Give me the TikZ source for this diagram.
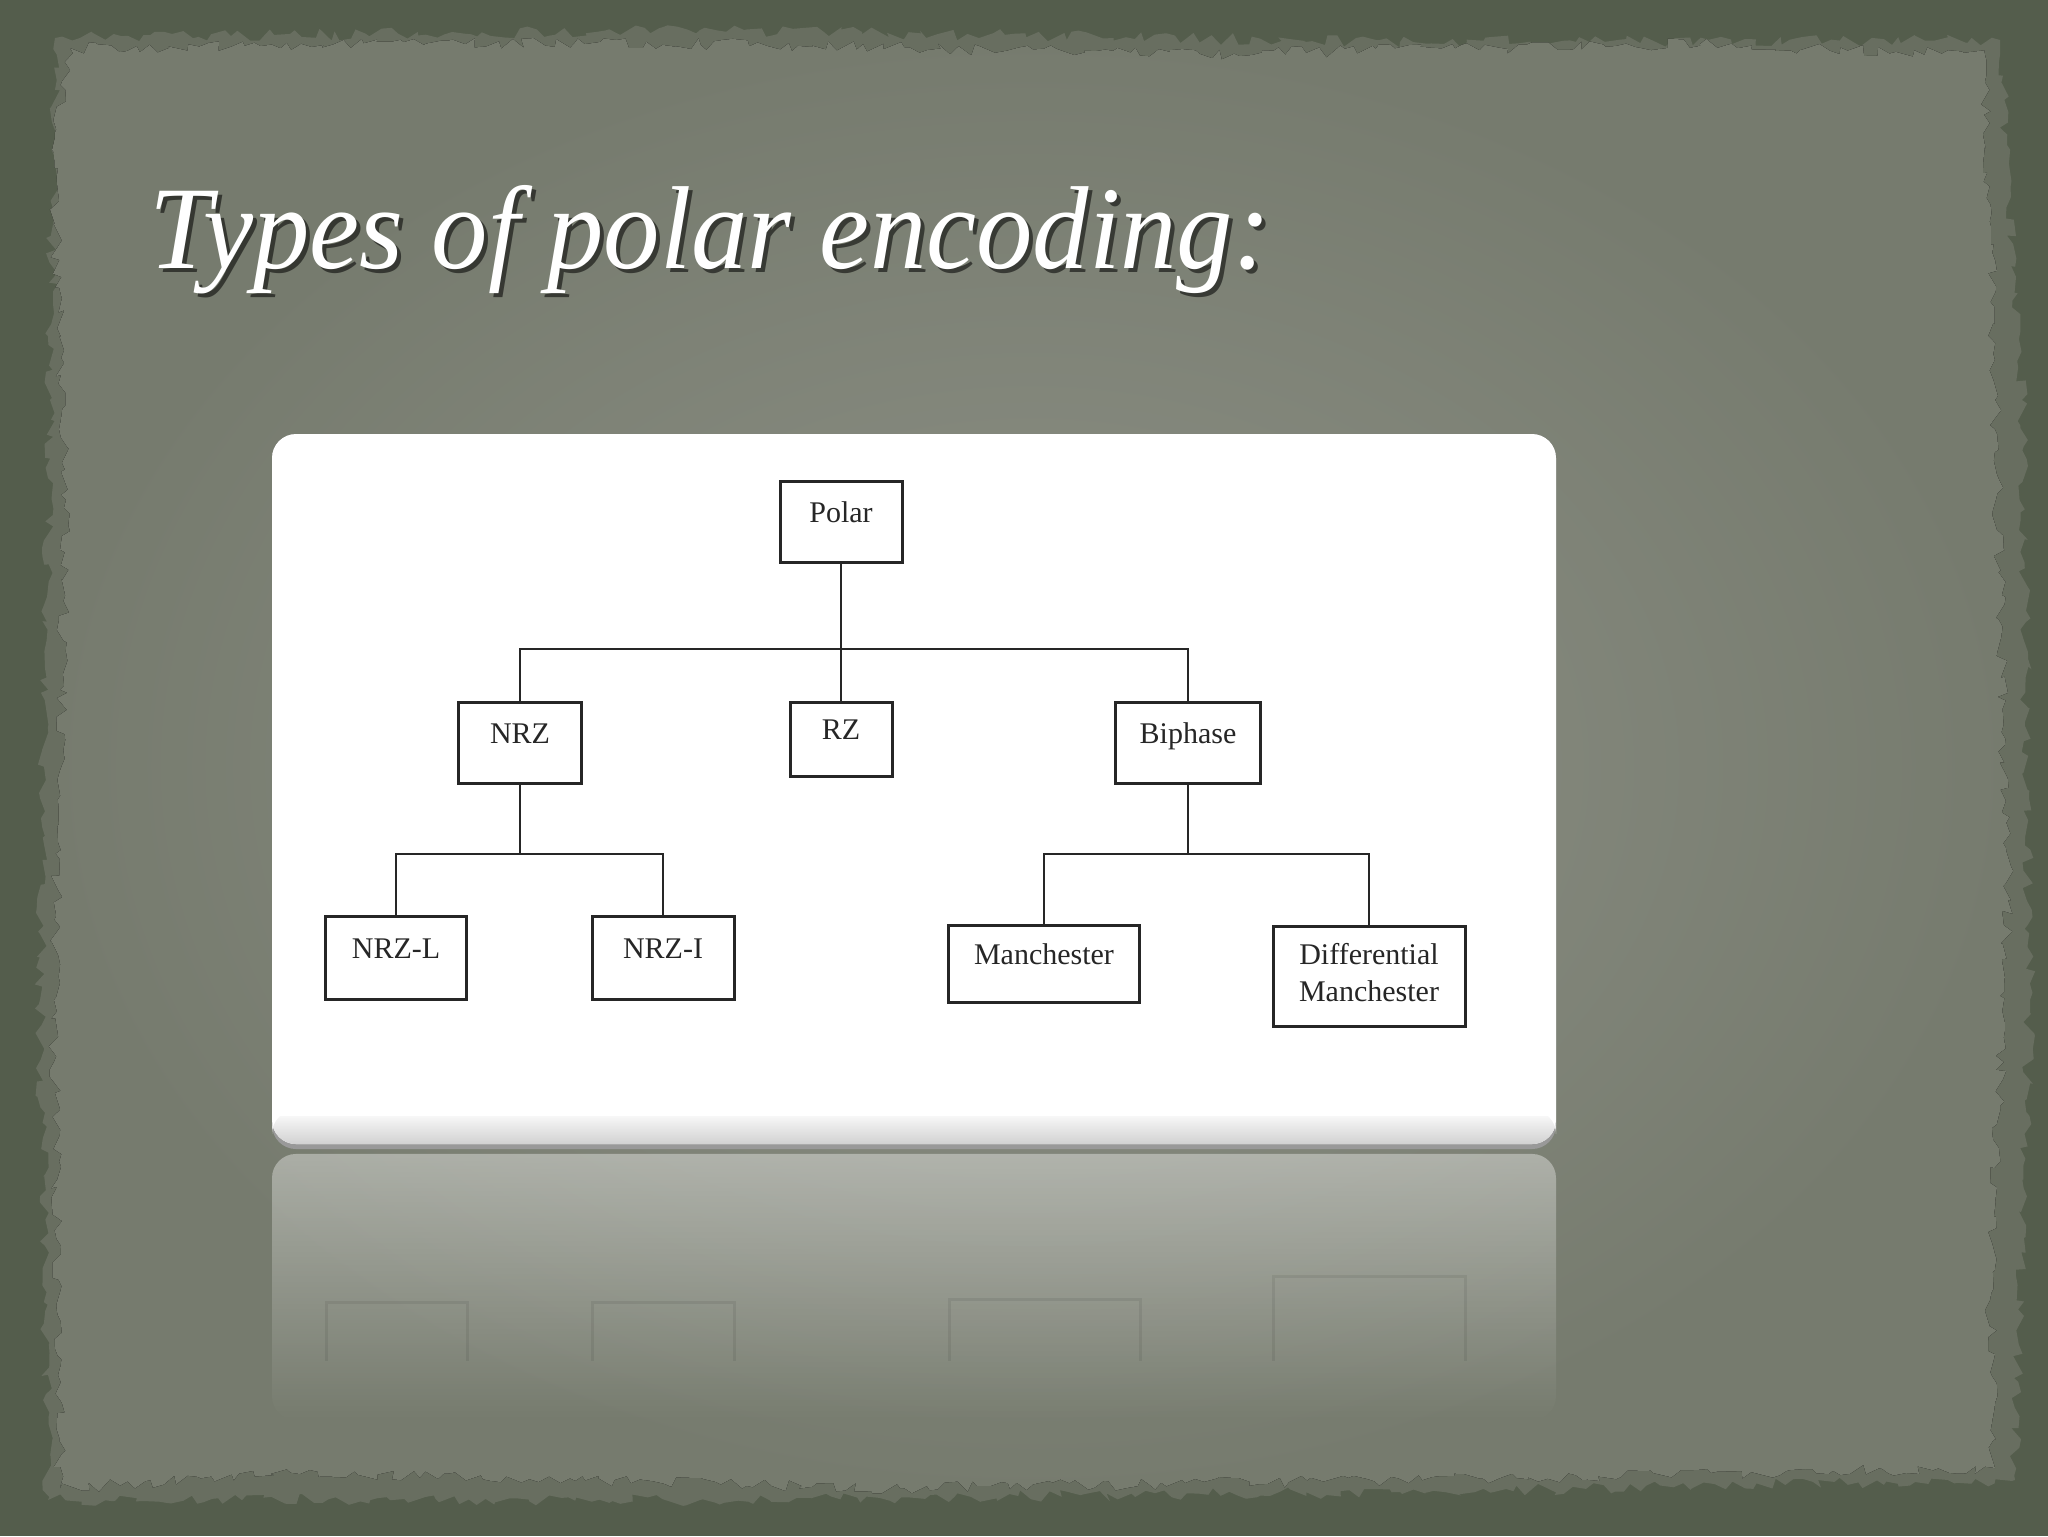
\documentclass[tikz,border=0pt]{standalone}
\usepackage{fontspec}
\setmainfont{Liberation Serif}
\usetikzlibrary{decorations.pathmorphing, fadings}

\definecolor{frameolive}{RGB}{84,93,76}
\definecolor{paperback}{RGB}{104,110,96}
\definecolor{paperedge}{RGB}{118,123,110}
\definecolor{papermid}{RGB}{142,145,135}
\definecolor{inkgray}{RGB}{38,38,38}
\tikzfading[name=reflfade, top color=transparent!62, bottom color=transparent!100]

\begin{document}
\begin{tikzpicture}[x=0.25pt, y=-0.25pt,
    enc/.style={draw=inkgray, line width=0.75pt, fill=white, inner sep=0pt,
      font=\fontsize{7.5}{9.25}\selectfont, text=inkgray, align=center},
    lift/.style={text height=5.5pt, text depth=5.5pt},
    link/.style={draw=inkgray, line width=0.65pt}]
  \useasboundingbox (0,0) rectangle (2048,1536);
  % background and torn paper
  \fill[frameolive] (0,0) rectangle (2048,1536);
  \pgfmathsetseed{7}
  \fill[paperback, decorate, decoration={random steps, segment length=2pt, amplitude=1.5pt}]
    (55,38) -- (700,30) -- (1400,42) -- (2000,40) -- (2022,400) -- (2030,1000) -- (2015,1480)
    -- (1400,1492) -- (700,1500) -- (48,1500) -- (40,1000) -- (50,400) -- cycle;
  \fill[inner color=papermid, outer color=paperedge, decorate, decoration={random steps, segment length=2pt, amplitude=1.5pt}]
    (70,48) -- (600,42) -- (1200,54) -- (1700,44) -- (1985,55) -- (1995,400) -- (2008,900)
    -- (1990,1300) -- (1995,1468) -- (1500,1478) -- (900,1488) -- (300,1474) -- (60,1488)
    -- (54,1000) -- (66,500) -- (52,150) -- cycle;
  % title
  \node[anchor=base west, text=black, opacity=0.55, font=\fontsize{29.5}{34}\selectfont\itshape]
    (titleshadow) at (139,272) {\scalebox{0.955}[1]{Types of polar encoding:}};
  \node[anchor=base west, text=white, font=\fontsize{29.5}{34}\selectfont\itshape]
    (title) at (135,268) {\scalebox{0.955}[1]{Types of polar encoding:}};
  % card and its reflection
  \fill[white, path fading=reflfade, rounded corners=6pt] (272,1154) rectangle (1556,1420);
  \begin{scope}[opacity=0.07, line width=0.75pt]
    \clip (272,1150) rectangle (1556,1360);
    \draw (326,1385) -- (326,1302) -- (467,1302) -- (467,1385);
    \draw (592,1385) -- (592,1302) -- (734,1302) -- (734,1385);
    \draw (949,1376) -- (949,1299) -- (1140,1299) -- (1140,1376);
    \draw (1273,1376) -- (1273,1276) -- (1465,1276) -- (1465,1376);
  \end{scope}
  \fill[black!40, rounded corners=6pt] (272,434) rectangle (1556,1149);
  \fill[white, rounded corners=6pt] (272,434) rectangle (1556,1144);
  \shade[top color=white, bottom color=black!18, rounded corners=6pt] (272,1110) rectangle (1556,1144);
  \fill[white] (272,1100) rectangle (1556,1116);

  % boxes
  \node[enc, lift, minimum width=30.5pt, minimum height=20.25pt] (polar) at (841,522) {Polar};
  \node[enc, lift, minimum width=30.75pt, minimum height=20.25pt] (nrz) at (520,743) {NRZ};
  \node[enc, lift, minimum width=25.5pt, minimum height=18.5pt] (rz) at (841,739) {RZ};
  \node[enc, lift, minimum width=36.25pt, minimum height=20.25pt] (bip) at (1188,743) {Biphase};
  \node[enc, lift, minimum width=35.25pt, minimum height=20.75pt] (nrzl) at (396,958) {NRZ-L};
  \node[enc, lift, minimum width=35.5pt, minimum height=20.75pt] (nrzi) at (663,958) {NRZ-I};
  \node[enc, lift, minimum width=47.75pt, minimum height=19.25pt] (man) at (1044,964) {Manchester};
  \node[enc, text height=12.5pt, text depth=0pt, minimum width=48pt, minimum height=25pt] (dman)
    at (1369,976) {Differential\\Manchester};

  % connectors
  \coordinate (tbus) at (841,649);
  \coordinate (lbus) at (520,854);
  \coordinate (rbus) at (1188,854);
  \draw[link] (polar) -- (rz);
  \draw[link] (nrz.north) |- (tbus) -| (bip.north);
  \draw[link] (nrz.south) -- (lbus);
  \draw[link] (nrzl.north) |- (lbus) -| (nrzi.north);
  \draw[link] (bip.south) -- (rbus);
  \draw[link] (man.north) |- (rbus) -| (dman.north);
\end{tikzpicture}
\end{document}
